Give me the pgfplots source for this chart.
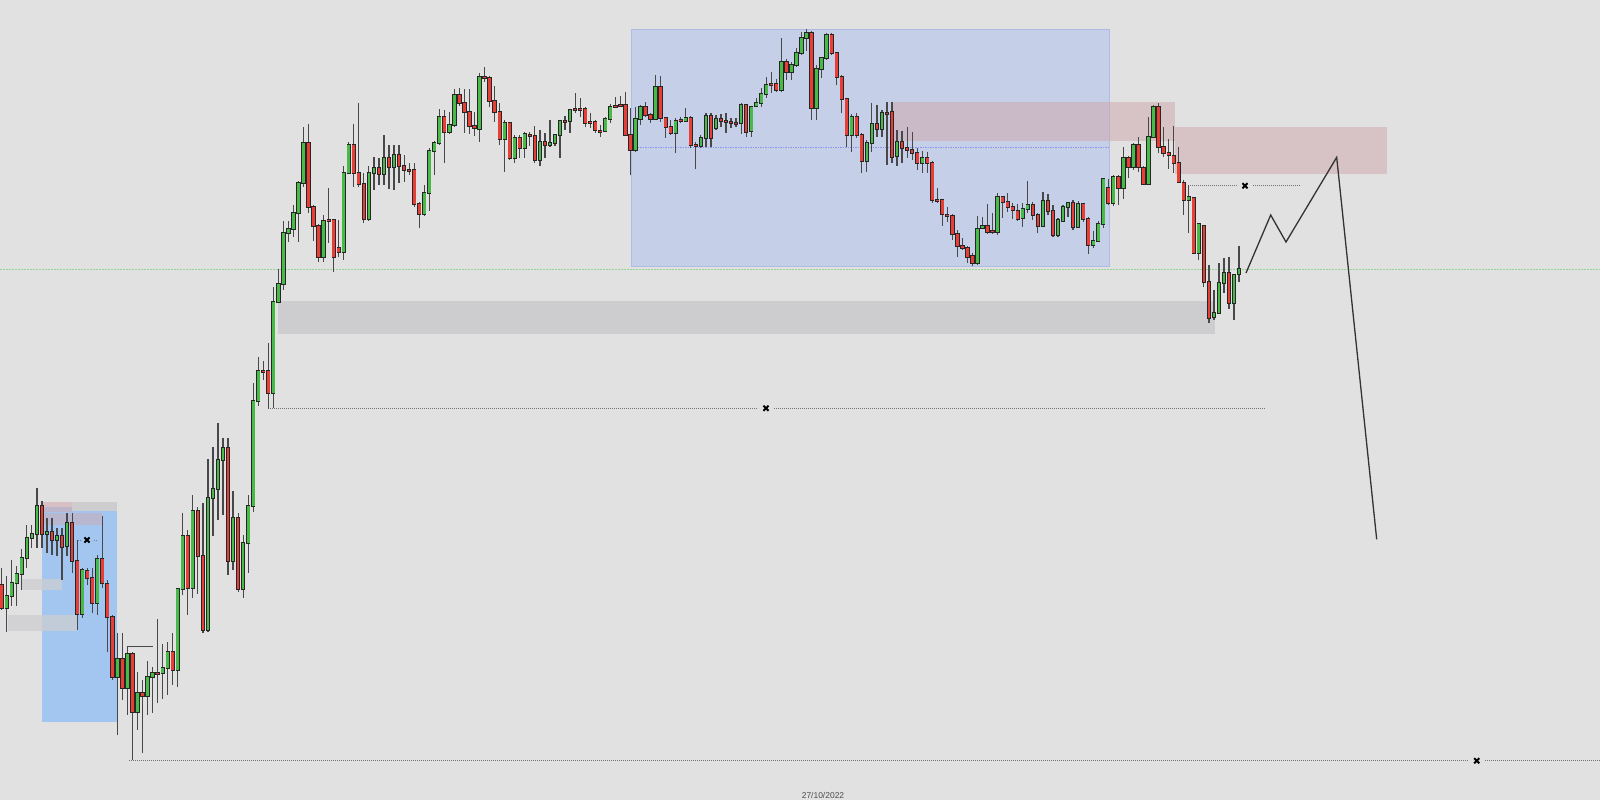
\documentclass[border=0pt]{standalone}
\usepackage{pgfplots}
\pgfplotsset{compat=1.18}
\usepackage{pgfplotstable}
\usepackage{fontspec}
\setmainfont{Liberation Sans}

\definecolor{bg}{RGB}{225,225,225}
\definecolor{candgreen}{RGB}{72,186,72}
\definecolor{candred}{RGB}{232,62,54}
\definecolor{wick}{RGB}{72,72,72}
\definecolor{leftblue}{RGB}{162,198,240}
\definecolor{boxblue}{RGB}{198,207,232}
\definecolor{boxedge}{RGB}{172,188,228}
\definecolor{zonepink}{RGB}{207,170,175}
\definecolor{zonegray}{RGB}{205,205,208}
\definecolor{levelgreen}{RGB}{150,212,150}
\definecolor{dotgray}{RGB}{115,115,115}

% candles in pixel units of the screenshot (y grows downwards)
% i = bar index, o/h/l/c = open, high, low, close
\pgfplotstableread{
i o h l c
0 585 568 610 608
1 608 576 632 596
2 596 560 606 583
3 583 566 606 574
4 574 549 590 558
5 558 525 568 538
6 538 525 548 534
7 534 488 548 506
8 506 501 548 534
9 534 518 553 532
10 532 518 555 540
11 540 528 556 536
12 536 528 580 547
13 546 513 556 523
14 523 513 573 561
15 561 540 630 614
16 614 568 618 570
17 571 568 585 578
18 578 568 613 603
19 603 555 615 559
20 559 516 588 583
21 584 580 652 617
22 617 615 680 677
23 677 633 735 659
24 659 633 700 688
25 688 647 715 654
26 654 652 760 712
27 712 672 730 693
28 693 680 753 696
29 696 661 715 677
30 677 667 713 673
31 673 619 703 674
32 673 644 699 668
33 668 642 695 652
34 652 633 685 670
35 670 588 687 589
36 589 513 595 536
37 536 530 615 588
38 588 495 598 511
39 511 507 594 556
40 556 503 633 630
41 630 459 632 498
42 498 447 536 489
43 489 423 520 460
44 460 438 515 448
45 448 438 575 561
46 561 491 570 518
47 518 513 592 589
48 589 535 598 543
49 543 495 573 506
50 506 383 512 401
51 401 357 406 371
52 371 361 380 372
53 371 343 409 393
54 393 287 408 302
55 302 269 303 284
56 284 221 290 233
57 233 221 242 229
58 229 205 237 213
59 213 181 242 183
60 183 127 187 143
61 143 124 213 207
62 207 205 241 226
63 226 224 262 257
64 257 215 262 221
65 220 188 243 221
66 220 219 272 257
67 248 220 257 252
68 252 166 260 173
69 173 142 174 145
70 145 124 187 173
71 173 103 187 184
72 184 173 223 219
73 219 166 221 173
74 173 157 190 168
75 168 158 185 174
76 174 135 185 158
77 158 145 189 167
78 167 145 190 155
79 155 145 183 166
80 166 155 182 170
81 170 163 175 171
82 170 163 207 204
83 204 202 228 214
84 214 185 216 193
85 193 148 211 151
86 151 141 175 143
87 143 109 145 117
88 117 110 163 132
89 132 112 134 125
90 125 89 127 95
91 95 88 106 103
92 103 89 133 112
93 112 89 134 126
94 126 112 136 128
95 129 73 142 77
96 77 67 82 78
97 78 76 107 101
98 101 86 122 112
99 112 103 145 139
100 139 120 172 123
101 123 122 160 158
102 158 135 163 138
103 138 135 158 148
104 148 132 158 134
105 135 132 146 136
106 136 126 163 160
107 160 130 166 142
108 142 133 158 145
109 145 120 147 143
110 143 134 146 135
111 135 120 158 121
112 121 116 130 122
113 121 109 133 110
114 109 93 113 110
115 109 98 117 110
116 109 107 127 123
117 122 113 128 123
118 122 120 133 130
119 131 125 137 132
120 131 117 132 119
121 119 104 123 107
122 106 97 107 107
123 105 96 107 106
124 105 92 136 135
125 135 108 175 150
126 150 107 152 119
127 119 105 125 107
128 107 102 117 115
129 115 113 123 119
130 119 75 120 87
131 87 76 122 118
132 118 117 138 127
133 127 120 135 133
134 133 118 153 121
135 120 117 123 121
136 121 108 122 118
137 118 116 148 145
138 145 142 169 146
139 146 135 148 138
140 138 113 147 116
141 116 113 147 138
142 128 115 130 119
143 119 114 127 121
144 121 113 133 122
145 122 118 128 123
146 123 118 127 124
147 123 103 134 105
148 105 104 137 132
149 131 106 137 107
150 106 98 107 103
151 103 88 107 94
152 94 77 98 85
153 84 72 93 85
154 84 79 92 90
155 90 38 92 62
156 62 59 80 72
157 72 62 80 65
158 65 48 67 53
159 53 32 55 38
160 38 29 51 33
161 33 31 120 108
162 108 65 120 69
163 69 57 78 58
164 58 33 60 35
165 35 33 55 53
166 53 52 85 77
167 77 75 113 99
168 99 98 147 135
169 135 114 152 117
170 117 113 138 135
171 135 133 173 161
172 161 140 172 143
173 143 103 152 124
174 124 105 137 129
175 129 110 137 113
176 113 102 165 114
177 112 102 163 157
178 156 130 166 142
179 142 131 163 148
180 148 127 158 150
181 150 132 160 153
182 153 148 170 163
183 163 151 173 158
184 158 152 173 163
185 163 161 203 200
186 200 188 203 201
187 200 199 226 214
188 215 207 222 216
189 216 214 240 234
190 234 230 257 246
191 246 238 250 248
192 248 246 263 257
193 256 253 266 263
194 263 216 265 229
195 228 217 229 226
196 226 204 234 232
197 231 213 234 232
198 232 193 235 197
199 197 196 218 202
200 202 193 212 207
201 207 203 219 210
202 211 204 221 219
203 218 203 227 209
204 209 181 213 205
205 205 202 220 215
206 215 213 233 226
207 226 192 227 201
208 201 194 215 211
209 211 205 237 235
210 235 218 237 220
211 221 205 222 207
212 207 202 217 203
213 203 200 230 227
214 227 201 228 204
215 204 203 222 219
216 219 217 254 245
217 245 231 248 241
218 241 221 242 224
219 224 178 228 179
220 188 179 205 203
221 203 175 206 177
222 177 175 205 188
223 188 147 199 158
224 158 156 178 167
225 167 143 170 145
226 145 137 172 167
227 168 166 185 184
228 184 117 185 137
229 137 105 138 107
230 107 103 153 147
231 147 127 157 153
232 153 139 169 155
233 156 126 173 163
234 163 147 183 182
235 183 180 215 200
236 200 185 233 197
237 198 197 254 253
238 253 223 260 224
239 226 225 287 282
240 282 265 323 318
241 317 290 320 313
242 313 263 314 283
243 283 258 293 273
244 273 257 309 303
245 303 274 320 275
246 274 246 282 269
}\candles

\begin{document}
\begin{tikzpicture}
\useasboundingbox (0,0) rectangle (1600bp,800bp);
\clip (0,0) rectangle (1600bp,800bp);
\begin{axis}[
  at={(0,0)}, anchor=south west,
  width=1600bp, height=800bp, scale only axis,
  xmin=0, xmax=1600, ymin=0, ymax=800,
  y dir=reverse,
  hide axis,
  colormap={updown}{color=(candred) color=(candgreen)},
  point meta min=0, point meta max=1,
]
% background
\addplot[fill=bg, draw=none] coordinates {(0,0) (1600,0) (1600,800) (0,800)} -- cycle;

% zones
\addplot[fill=leftblue, draw=none] coordinates {(42,507) (117,507) (117,722) (42,722)} -- cycle;
\addplot[fill=zonepink, fill opacity=0.6, draw=none] coordinates {(43,502) (72,502) (72,512) (43,512)} -- cycle;
\addplot[fill=zonegray, draw=none] coordinates {(72,502) (117,502) (117,511) (72,511)} -- cycle;
\addplot[fill=zonepink, fill opacity=0.5, draw=none] coordinates {(43,513) (102,513) (102,525) (43,525)} -- cycle;
\addplot[fill=zonegray, fill opacity=0.75, draw=none] coordinates {(22,579) (62,579) (62,590) (22,590)} -- cycle;
\addplot[fill=zonegray, fill opacity=0.75, draw=none] coordinates {(8,615) (77,615) (77,631) (8,631)} -- cycle;
\addplot[fill=boxblue, draw=boxedge, line width=0.8bp] coordinates {(631,29.5) (1109,29.5) (1109,266) (631,266)} -- cycle;
\addplot[fill=zonepink, fill opacity=0.55, draw=none] coordinates {(891,101.5) (1175,101.5) (1175,141) (891,141)} -- cycle;
\addplot[fill=zonepink, fill opacity=0.55, draw=none] coordinates {(1175,126.5) (1387,126.5) (1387,174) (1175,174)} -- cycle;
\addplot[fill=zonegray, draw=none] coordinates {(278,301) (1215,301) (1215,334) (278,334)} -- cycle;

% levels
\addplot[levelgreen, line width=0.8bp, dash pattern=on 1.5bp off 1.5bp] coordinates {(0,269.4) (1600,269.4)};
\addplot[boxedge!80!blue, line width=0.9bp, dash pattern=on 1.5bp off 1bp] coordinates {(635,147.7) (1108,147.7)};
\addplot[dotgray, line width=0.9bp, dash pattern=on 1bp off 1bp] coordinates {(268,408.3) (758,408.3)};
\addplot[dotgray, line width=0.9bp, dash pattern=on 1bp off 1bp] coordinates {(774,408.3) (1265,408.3)};
\addplot[dotgray, line width=0.9bp, dash pattern=on 1bp off 1bp] coordinates {(1190,185.7) (1237,185.7)};
\addplot[dotgray, line width=0.9bp, dash pattern=on 1bp off 1bp] coordinates {(1253,185.7) (1301,185.7)};
\addplot[dotgray, line width=0.9bp, dash pattern=on 1bp off 1bp] coordinates {(129,760.7) (1468,760.7)};
\addplot[dotgray, line width=0.9bp, dash pattern=on 1bp off 1bp] coordinates {(1485,760.7) (1600,760.7)};
\addplot[dotgray, line width=0.8bp, dash pattern=on 1bp off 1bp] coordinates {(78,540) (81,540)};
\addplot[dotgray, line width=0.8bp, dash pattern=on 1bp off 1bp] coordinates {(94,540) (98,540)};
\addplot[wick, line width=1.2bp] coordinates {(127.3,653) (127.3,646.7) (152.7,646.7)};

% candles: wicks, body outline, body fill
\addplot[wick, line width=1.2bp,
  quiver={u=0, v={\thisrow{l}-\thisrow{h}}}]
  table[x expr={1.7+5.03*\thisrow{i}}, y=h] {\candles};
\addplot[black!85, line width=4.3bp,
  quiver={u=0, v={abs(\thisrow{c}-\thisrow{o})+1.3}}]
  table[x expr={1.7+5.03*\thisrow{i}}, y expr={min(\thisrow{o},\thisrow{c})-0.65}] {\candles};
\addplot[line width=2.7bp, point meta={\thisrow{o}>\thisrow{c}},
  quiver={u=0, v={abs(\thisrow{c}-\thisrow{o})}, colored=mapped color}]
  table[x expr={1.7+5.03*\thisrow{i}}, y expr={min(\thisrow{o},\thisrow{c})}] {\candles};

% projected path
\addplot[black!80, line width=1.3bp] coordinates {(1246,273) (1270.7,215) (1286,242) (1336.7,157.3) (1376.7,539.3)};

% x markers
\addplot[only marks, mark=x, mark size=3.6bp, line width=1.9bp, black] coordinates {(87,540) (766,408.3) (1245,185.7) (1476.7,760.7)};

\node[anchor=south, text=black!70, inner sep=0.5bp, font=\fontsize{8.5}{10}\selectfont] at (axis cs:823,799.5) {27/10/2022};
\end{axis}
\end{tikzpicture}
\end{document}
